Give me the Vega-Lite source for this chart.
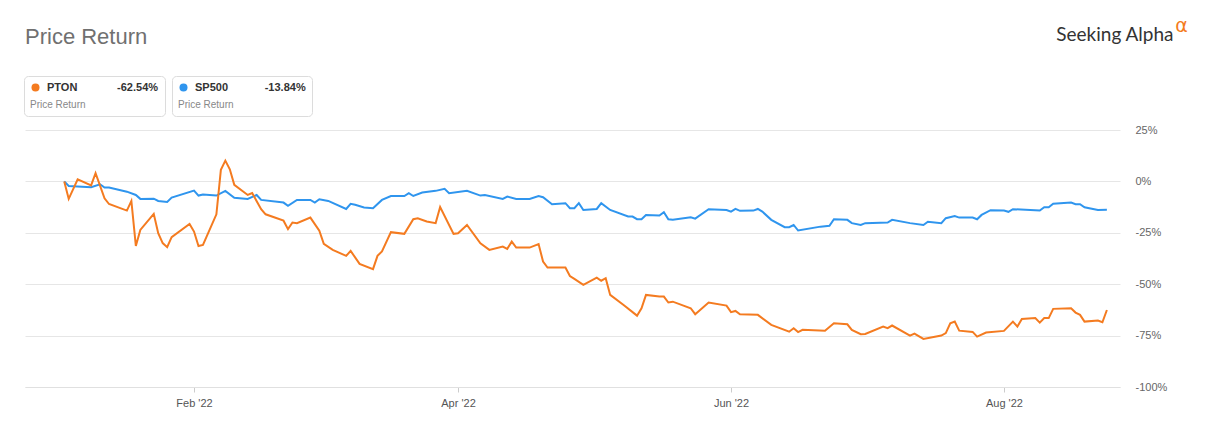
{
  "$schema": "https://vega.github.io/schema/vega-lite/v6.json",
  "width": 1095,
  "height": 257,
  "autosize": {"type": "none"},
  "padding": {"left": 25, "top": 130, "right": 98, "bottom": 35},
  "background": "white",
  "config": {
    "view": {"stroke": null},
    "font": "Liberation Sans"
  },
  "title": {
    "text": "Price Return",
    "anchor": "start",
    "frame": "group",
    "fontSize": 22,
    "fontWeight": "normal",
    "color": "#707070",
    "font": "Liberation Sans",
    "baseline": "alphabetic",
    "offset": 0,
    "dy": 50
  },
  "datasets": {
    "pton": [
      {"d": "2022-01-03", "v": 0},
      {"d": "2022-01-04", "v": -8.5},
      {"d": "2022-01-06", "v": 1.0},
      {"d": "2022-01-09", "v": -1.9},
      {"d": "2022-01-10", "v": 4.0},
      {"d": "2022-01-12", "v": -8.2},
      {"d": "2022-01-13", "v": -11.0},
      {"d": "2022-01-17", "v": -14.2},
      {"d": "2022-01-18", "v": -9.5},
      {"d": "2022-01-19", "v": -31.4},
      {"d": "2022-01-20", "v": -23.6},
      {"d": "2022-01-23", "v": -15.8},
      {"d": "2022-01-24", "v": -25.2},
      {"d": "2022-01-25", "v": -30.0},
      {"d": "2022-01-26", "v": -32.0},
      {"d": "2022-01-27", "v": -27.1},
      {"d": "2022-01-31", "v": -20.7},
      {"d": "2022-02-01", "v": -24.4},
      {"d": "2022-02-02", "v": -31.4},
      {"d": "2022-02-03", "v": -30.9},
      {"d": "2022-02-06", "v": -16.0},
      {"d": "2022-02-07", "v": 5.6},
      {"d": "2022-02-08", "v": 10.1},
      {"d": "2022-02-09", "v": 5.9},
      {"d": "2022-02-10", "v": -1.7},
      {"d": "2022-02-13", "v": -6.6},
      {"d": "2022-02-14", "v": -5.7},
      {"d": "2022-02-16", "v": -13.5},
      {"d": "2022-02-17", "v": -16.0},
      {"d": "2022-02-21", "v": -19.1},
      {"d": "2022-02-22", "v": -23.2},
      {"d": "2022-02-23", "v": -20.0},
      {"d": "2022-02-24", "v": -20.3},
      {"d": "2022-02-27", "v": -17.6},
      {"d": "2022-03-01", "v": -24.0},
      {"d": "2022-03-02", "v": -30.4},
      {"d": "2022-03-04", "v": -33.3},
      {"d": "2022-03-07", "v": -36.2},
      {"d": "2022-03-08", "v": -33.8},
      {"d": "2022-03-10", "v": -40.1},
      {"d": "2022-03-13", "v": -42.7},
      {"d": "2022-03-14", "v": -36.2},
      {"d": "2022-03-15", "v": -34.1},
      {"d": "2022-03-17", "v": -24.7},
      {"d": "2022-03-20", "v": -25.5},
      {"d": "2022-03-22", "v": -18.4},
      {"d": "2022-03-23", "v": -17.9},
      {"d": "2022-03-25", "v": -19.5},
      {"d": "2022-03-27", "v": -20.3},
      {"d": "2022-03-28", "v": -12.5},
      {"d": "2022-03-31", "v": -25.5},
      {"d": "2022-04-01", "v": -25.2},
      {"d": "2022-04-03", "v": -21.2},
      {"d": "2022-04-06", "v": -30.1},
      {"d": "2022-04-08", "v": -33.3},
      {"d": "2022-04-11", "v": -31.7},
      {"d": "2022-04-12", "v": -32.8},
      {"d": "2022-04-13", "v": -29.3},
      {"d": "2022-04-14", "v": -32.2},
      {"d": "2022-04-17", "v": -32.2},
      {"d": "2022-04-19", "v": -30.5},
      {"d": "2022-04-20", "v": -39.0},
      {"d": "2022-04-21", "v": -41.9},
      {"d": "2022-04-25", "v": -41.9},
      {"d": "2022-04-26", "v": -46.0},
      {"d": "2022-04-27", "v": -47.4},
      {"d": "2022-04-29", "v": -50.3},
      {"d": "2022-05-02", "v": -46.8},
      {"d": "2022-05-03", "v": -48.3},
      {"d": "2022-05-04", "v": -47.1},
      {"d": "2022-05-05", "v": -55.2},
      {"d": "2022-05-08", "v": -60.1},
      {"d": "2022-05-11", "v": -65.3},
      {"d": "2022-05-12", "v": -61.7},
      {"d": "2022-05-13", "v": -55.2},
      {"d": "2022-05-16", "v": -56.0},
      {"d": "2022-05-17", "v": -56.0},
      {"d": "2022-05-18", "v": -58.9},
      {"d": "2022-05-19", "v": -58.5},
      {"d": "2022-05-23", "v": -61.7},
      {"d": "2022-05-24", "v": -64.6},
      {"d": "2022-05-27", "v": -58.9},
      {"d": "2022-05-31", "v": -60.4},
      {"d": "2022-06-01", "v": -63.6},
      {"d": "2022-06-02", "v": -63.0},
      {"d": "2022-06-03", "v": -64.6},
      {"d": "2022-06-07", "v": -64.9},
      {"d": "2022-06-10", "v": -69.8},
      {"d": "2022-06-14", "v": -73.1},
      {"d": "2022-06-15", "v": -71.4},
      {"d": "2022-06-16", "v": -73.3},
      {"d": "2022-06-17", "v": -72.2},
      {"d": "2022-06-22", "v": -72.6},
      {"d": "2022-06-24", "v": -69.0},
      {"d": "2022-06-27", "v": -69.5},
      {"d": "2022-06-28", "v": -72.2},
      {"d": "2022-06-30", "v": -74.3},
      {"d": "2022-07-01", "v": -74.2},
      {"d": "2022-07-05", "v": -70.6},
      {"d": "2022-07-06", "v": -71.4},
      {"d": "2022-07-07", "v": -70.1},
      {"d": "2022-07-11", "v": -75.0},
      {"d": "2022-07-12", "v": -74.0},
      {"d": "2022-07-14", "v": -76.6},
      {"d": "2022-07-18", "v": -75.0},
      {"d": "2022-07-19", "v": -73.8},
      {"d": "2022-07-20", "v": -69.0},
      {"d": "2022-07-21", "v": -68.2},
      {"d": "2022-07-22", "v": -72.6},
      {"d": "2022-07-25", "v": -73.2},
      {"d": "2022-07-26", "v": -75.5},
      {"d": "2022-07-28", "v": -73.5},
      {"d": "2022-08-01", "v": -72.7},
      {"d": "2022-08-03", "v": -68.2},
      {"d": "2022-08-04", "v": -70.6},
      {"d": "2022-08-05", "v": -66.9},
      {"d": "2022-08-08", "v": -66.5},
      {"d": "2022-08-09", "v": -68.7},
      {"d": "2022-08-10", "v": -66.5},
      {"d": "2022-08-11", "v": -66.5},
      {"d": "2022-08-12", "v": -62.0},
      {"d": "2022-08-16", "v": -61.7},
      {"d": "2022-08-17", "v": -63.8},
      {"d": "2022-08-18", "v": -64.9},
      {"d": "2022-08-19", "v": -68.2},
      {"d": "2022-08-22", "v": -67.7},
      {"d": "2022-08-23", "v": -68.5},
      {"d": "2022-08-24", "v": -62.54}
    ],
    "sp500": [
      {"d": "2022-01-03", "v": 0},
      {"d": "2022-01-04", "v": -2.2},
      {"d": "2022-01-09", "v": -2.8},
      {"d": "2022-01-11", "v": -1.4},
      {"d": "2022-01-12", "v": -3.0},
      {"d": "2022-01-13", "v": -3.0},
      {"d": "2022-01-17", "v": -5.0},
      {"d": "2022-01-19", "v": -6.6},
      {"d": "2022-01-20", "v": -8.5},
      {"d": "2022-01-23", "v": -8.4},
      {"d": "2022-01-24", "v": -9.5},
      {"d": "2022-01-26", "v": -10.0},
      {"d": "2022-01-27", "v": -7.9},
      {"d": "2022-02-01", "v": -4.5},
      {"d": "2022-02-02", "v": -6.9},
      {"d": "2022-02-03", "v": -6.4},
      {"d": "2022-02-06", "v": -6.9},
      {"d": "2022-02-08", "v": -4.6},
      {"d": "2022-02-10", "v": -8.0},
      {"d": "2022-02-13", "v": -8.5},
      {"d": "2022-02-15", "v": -6.6},
      {"d": "2022-02-16", "v": -9.0},
      {"d": "2022-02-21", "v": -10.3},
      {"d": "2022-02-22", "v": -11.9},
      {"d": "2022-02-24", "v": -9.0},
      {"d": "2022-02-27", "v": -9.0},
      {"d": "2022-02-28", "v": -10.3},
      {"d": "2022-03-01", "v": -8.7},
      {"d": "2022-03-03", "v": -9.5},
      {"d": "2022-03-07", "v": -13.4},
      {"d": "2022-03-08", "v": -10.9},
      {"d": "2022-03-09", "v": -11.4},
      {"d": "2022-03-11", "v": -12.7},
      {"d": "2022-03-13", "v": -13.0},
      {"d": "2022-03-15", "v": -9.0},
      {"d": "2022-03-17", "v": -7.1},
      {"d": "2022-03-20", "v": -7.1},
      {"d": "2022-03-21", "v": -5.7},
      {"d": "2022-03-22", "v": -7.1},
      {"d": "2022-03-24", "v": -5.4},
      {"d": "2022-03-27", "v": -4.6},
      {"d": "2022-03-29", "v": -3.6},
      {"d": "2022-03-30", "v": -5.7},
      {"d": "2022-04-03", "v": -4.6},
      {"d": "2022-04-06", "v": -6.9},
      {"d": "2022-04-07", "v": -6.6},
      {"d": "2022-04-11", "v": -8.5},
      {"d": "2022-04-12", "v": -7.4},
      {"d": "2022-04-14", "v": -8.5},
      {"d": "2022-04-17", "v": -8.5},
      {"d": "2022-04-19", "v": -7.1},
      {"d": "2022-04-20", "v": -7.7},
      {"d": "2022-04-22", "v": -11.1},
      {"d": "2022-04-25", "v": -10.6},
      {"d": "2022-04-26", "v": -13.0},
      {"d": "2022-04-27", "v": -13.0},
      {"d": "2022-04-28", "v": -10.6},
      {"d": "2022-04-29", "v": -13.9},
      {"d": "2022-05-02", "v": -13.4},
      {"d": "2022-05-03", "v": -10.6},
      {"d": "2022-05-05", "v": -13.9},
      {"d": "2022-05-09", "v": -17.1},
      {"d": "2022-05-10", "v": -17.1},
      {"d": "2022-05-11", "v": -18.4},
      {"d": "2022-05-12", "v": -18.4},
      {"d": "2022-05-13", "v": -16.3},
      {"d": "2022-05-16", "v": -16.6},
      {"d": "2022-05-17", "v": -15.0},
      {"d": "2022-05-18", "v": -18.4},
      {"d": "2022-05-19", "v": -18.7},
      {"d": "2022-05-23", "v": -17.4},
      {"d": "2022-05-24", "v": -18.1},
      {"d": "2022-05-27", "v": -13.5},
      {"d": "2022-05-31", "v": -13.9},
      {"d": "2022-06-01", "v": -14.7},
      {"d": "2022-06-02", "v": -13.4},
      {"d": "2022-06-03", "v": -14.3},
      {"d": "2022-06-06", "v": -14.2},
      {"d": "2022-06-07", "v": -13.4},
      {"d": "2022-06-08", "v": -14.7},
      {"d": "2022-06-10", "v": -18.7},
      {"d": "2022-06-13", "v": -22.3},
      {"d": "2022-06-14", "v": -22.3},
      {"d": "2022-06-15", "v": -21.2},
      {"d": "2022-06-16", "v": -23.9},
      {"d": "2022-06-21", "v": -22.0},
      {"d": "2022-06-23", "v": -21.6},
      {"d": "2022-06-24", "v": -18.4},
      {"d": "2022-06-27", "v": -18.7},
      {"d": "2022-06-28", "v": -20.3},
      {"d": "2022-06-30", "v": -21.2},
      {"d": "2022-07-01", "v": -20.3},
      {"d": "2022-07-06", "v": -20.0},
      {"d": "2022-07-07", "v": -18.7},
      {"d": "2022-07-11", "v": -20.3},
      {"d": "2022-07-14", "v": -21.2},
      {"d": "2022-07-15", "v": -19.6},
      {"d": "2022-07-18", "v": -20.3},
      {"d": "2022-07-19", "v": -17.9},
      {"d": "2022-07-21", "v": -16.8},
      {"d": "2022-07-22", "v": -17.6},
      {"d": "2022-07-25", "v": -17.6},
      {"d": "2022-07-26", "v": -18.4},
      {"d": "2022-07-27", "v": -16.3},
      {"d": "2022-07-29", "v": -14.0},
      {"d": "2022-08-01", "v": -14.2},
      {"d": "2022-08-02", "v": -14.8},
      {"d": "2022-08-03", "v": -13.5},
      {"d": "2022-08-09", "v": -14.2},
      {"d": "2022-08-10", "v": -12.6},
      {"d": "2022-08-11", "v": -12.6},
      {"d": "2022-08-12", "v": -10.9},
      {"d": "2022-08-16", "v": -10.3},
      {"d": "2022-08-17", "v": -11.1},
      {"d": "2022-08-18", "v": -11.1},
      {"d": "2022-08-19", "v": -12.6},
      {"d": "2022-08-22", "v": -13.9},
      {"d": "2022-08-24", "v": -13.84}
    ]
  },
  "encoding": {
    "x": {
      "field": "d",
      "type": "temporal",
      "scale": {
        "type": "utc",
        "domain": [
          {"year": 2021, "month": 12, "date": 25, "hours": 5, "minutes": 30, "utc": true},
          {"year": 2022, "month": 8, "date": 26, "hours": 22, "minutes": 20, "utc": true}
        ]
      },
      "axis": {
        "values": [
          {"year": 2022, "month": 2, "date": 1, "utc": true},
          {"year": 2022, "month": 4, "date": 1, "utc": true},
          {"year": 2022, "month": 6, "date": 1, "utc": true},
          {"year": 2022, "month": 8, "date": 1, "utc": true}
        ],
        "labelExpr": "utcFormat(datum.value, \"%b '%y\")",
        "grid": false,
        "domain": true,
        "domainColor": "#e0e0e0",
        "domainWidth": 1,
        "ticks": true,
        "tickColor": "#cccccc",
        "tickSize": 5,
        "labelPadding": 5,
        "labelFontSize": 11,
        "labelColor": "#555555",
        "labelFont": "Liberation Sans",
        "title": "Seeking Alpha",
        "titleFont": "Lato",
        "titleFontSize": 19,
        "titleFontWeight": "normal",
        "titleColor": "#333333",
        "titleAnchor": "start",
        "titleAlign": "right",
        "titleBaseline": "alphabetic",
        "titleX": 1148,
        "titleY": -347
      }
    },
    "y": {
      "field": "v",
      "type": "quantitative",
      "scale": {"domain": [-100, 25], "nice": false, "zero": false},
      "axis": {
        "orient": "right",
        "values": [-100, -75, -50, -25, 0, 25],
        "labelExpr": "datum.value + '%'",
        "grid": true,
        "gridColor": "#e6e6e6",
        "gridWidth": 1,
        "domain": false,
        "ticks": false,
        "labelPadding": 15,
        "labelFontSize": 11,
        "labelColor": "#666666",
        "labelFont": "Liberation Sans",
        "title": "α",
        "titleAngle": 0,
        "titleFont": "DejaVu Sans",
        "titleFontSize": 19,
        "titleFontWeight": "normal",
        "titleColor": "#f47b20",
        "titleAlign": "center",
        "titleBaseline": "middle",
        "titleX": 61,
        "titleY": -105
      }
    }
  },
  "layer": [
    {
      "data": {"name": "sp500"},
      "mark": {"type": "line", "strokeWidth": 2, "interpolate": "linear"},
      "encoding": {
        "color": {
          "datum": "SP500",
          "type": "nominal",
          "scale": {"range": ["#2f95ee"]},
          "legend": {
            "orient": "none",
            "legendX": 147,
            "legendY": -54,
            "title": "Price Return",
            "titleOrient": "bottom",
            "titleAnchor": "start",
            "titleFontSize": 10,
            "titleFontWeight": "normal",
            "titleColor": "#888888",
            "titleFont": "Liberation Sans",
            "titlePadding": 7,
            "labelExpr": "'SP500' + '\u00a0\u00a0\u00a0\u00a0\u00a0\u00a0\u00a0\u00a0\u00a0\u00a0\u00a0\u00a0' + '-13.84%'",
            "labelFontSize": 11,
            "labelFontWeight": "bold",
            "labelColor": "#333333",
            "labelFont": "Liberation Sans",
            "labelOffset": 6,
            "labelLimit": 300,
            "symbolType": "circle",
            "symbolSize": 64,
            "symbolFillColor": "#2f95ee",
            "symbolStrokeColor": "#2f95ee",
            "symbolStrokeWidth": 0,
            "strokeColor": "#dcdcdc",
            "fillColor": "white",
            "cornerRadius": 4,
            "padding": 6
          }
        }
      }
    },
    {
      "data": {"name": "pton"},
      "mark": {"type": "line", "strokeWidth": 2, "interpolate": "linear"},
      "encoding": {
        "color": {
          "datum": "PTON",
          "type": "nominal",
          "scale": {"range": ["#f47b20"]},
          "legend": {
            "orient": "none",
            "legendX": -1,
            "legendY": -54,
            "title": "Price Return",
            "titleOrient": "bottom",
            "titleAnchor": "start",
            "titleFontSize": 10,
            "titleFontWeight": "normal",
            "titleColor": "#888888",
            "titleFont": "Liberation Sans",
            "titlePadding": 7,
            "labelExpr": "'PTON' + '\u00a0\u00a0\u00a0\u00a0\u00a0\u00a0\u00a0\u00a0\u00a0\u00a0\u00a0\u00a0\u00a0' + '-62.54%'",
            "labelFontSize": 11,
            "labelFontWeight": "bold",
            "labelColor": "#333333",
            "labelFont": "Liberation Sans",
            "labelOffset": 6,
            "labelLimit": 300,
            "symbolType": "circle",
            "symbolSize": 64,
            "symbolFillColor": "#f47b20",
            "symbolStrokeColor": "#f47b20",
            "symbolStrokeWidth": 0,
            "strokeColor": "#dcdcdc",
            "fillColor": "white",
            "cornerRadius": 4,
            "padding": 6
          }
        }
      }
    }
  ],
  "resolve": {"scale": {"color": "independent"}}
}
